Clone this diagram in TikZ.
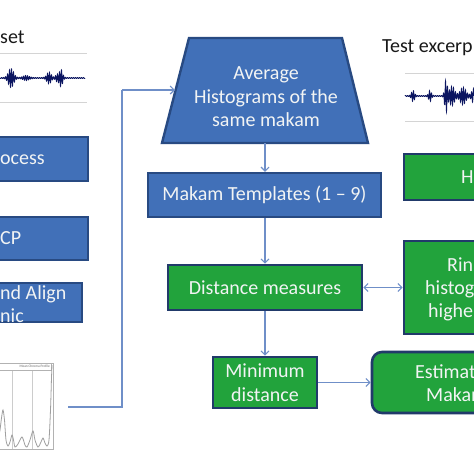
\documentclass[tikz,border=0pt]{standalone}
\usepackage{fontspec}
\setmainfont{Carlito}
\usetikzlibrary{arrows.meta}
\definecolor{bfill}{HTML}{4170B8}
\definecolor{bdraw}{HTML}{284A82}
\definecolor{gfill}{HTML}{22A33C}
\definecolor{gdraw}{HTML}{213A6A}
\definecolor{arrc}{HTML}{6F8FC8}
\definecolor{wavec}{HTML}{0B1560}
\definecolor{txt}{HTML}{F2F4F4}
\definecolor{sep}{HTML}{D4D4D4}
\begin{document}
\begin{tikzpicture}[x=1pt,y=-1pt,
  bluebox/.style={draw=bdraw, fill=bfill, line width=2.4pt, inner sep=0pt},
  greenbox/.style={draw=gdraw, fill=gfill, line width=2.6pt, inner sep=0pt},
  lbl/.style={text=txt, font=\fontsize{20}{23.5}\selectfont, align=center, inner sep=0pt},
  frag/.style={text=txt, font=\fontsize{20}{23.5}\selectfont, align=left, inner sep=0pt, anchor=west},
  head/.style={text=black!90, font=\fontsize{20}{24}\selectfont, inner sep=0pt, anchor=west},
  arr/.style={draw=arrc, line width=1.1pt, -{Straight Barb[length=4pt,width=8pt]}},
  dblarr/.style={draw=arrc, line width=1.1pt, {Straight Barb[length=4pt,width=8pt]}-{Straight Barb[length=4pt,width=8pt]}},
  wave/.style={draw=wavec, line width=0.9pt},
  sepline/.style={draw=sep, line width=0.8pt}]
\useasboundingbox (0,0) rectangle (474,474);
\clip (0,0) rectangle (474,474);
\fill[white] (0,0) rectangle (474,474);

% ---- left: training set ----
\node[head] (trset) at (0,37) {set};
\draw[sepline] (0,53) -- (87,53);
\draw[sepline] (0,102) -- (87,102);
\draw[wave] plot[domain=0:85, samples=700]
  (\x, {78 + (0.5 + 9*exp(-((\x-11)/3.5)^2) + 2*exp(-((\x-26)/4)^2)
        + 5*exp(-((\x-49)/3)^2) + 8*exp(-((\x-61)/2.2)^2) + 3*exp(-((\x-57)/2)^2))*sin(\x*180)});

\node[bluebox, minimum width=108pt, minimum height=44pt] (pre) at (34,159) {};
\node[frag] (pretxt) at (0,160) {ocess};
\node[bluebox, minimum width=108pt, minimum height=43pt] (hpcpl) at (34,238.5) {};
\node[frag] (hpcptxt) at (0,238) {CP};
\node[bluebox, minimum width=102pt, minimum height=39pt] (tonic) at (31,302.5) {};
\node[frag] (tonictxt) at (0,304) {nd Align\\nic};

% chart
\draw[draw=gray!60, line width=0.5pt] (-5,363) rectangle (53,449);
\draw[draw=gray!40, line width=0.4pt] (12,370) -- (12,449) (32,370) -- (32,449);
\draw[draw=gray!60, line width=0.4pt, fill=white] (-5,363) rectangle (51,370);
\node[text=gray!80!black, font=\fontsize{3.5}{4}\selectfont, anchor=east, inner sep=0pt] (legend) at (50,366.5) {Mean Chroma Profile};
\draw[draw=gray!75, line width=0.8pt] plot[smooth] coordinates {
 (-2,440) (0,430) (1.5,418) (3,410) (4.5,420) (6,440) (8,446) (10,442) (12,435)
 (13.5,440) (15,447) (18,444) (22,437) (25,445) (27,447) (30,440) (33,431)
 (35,440) (38,447) (41,442) (43,438) (45,443) (47,446) (49,440) (50.5,410)
 (51.5,378) (52,365)};
\coordinate (chartR) at (68,407);

% ---- middle ----
\coordinate (tA) at (189,38);
\coordinate (tB) at (342,38);
\coordinate (tC) at (368,143);
\coordinate (tD) at (162,143);
\draw[draw=bdraw, fill=bfill, line width=2.4pt, line join=miter] (tA) -- (tB) -- (tC) -- (tD) -- cycle;
\node[lbl] (avg) at (266,97) {Average\\Histograms of the\\same makam};
\coordinate (avgW) at (175,90);
\coordinate (avgS) at (265,143);

\draw[draw=arrc, line width=1.1pt] (chartR) -- (122,407) -- (122,90);
\draw[arr] (122,90) -- (avgW);

\node[bluebox, lbl, minimum width=233pt, minimum height=44pt] (tmpl) at (264.5,195) {Makam Templates (1 -- 9)};
\node[greenbox, lbl, minimum width=194pt, minimum height=45pt] (dist) at (265,287.5) {Distance measures};
\node[greenbox, lbl, minimum width=104pt, minimum height=51pt] (mind) at (265,382.5) {Minimum\\distance};

\draw[arr] (avgS) -- (avgS |- tmpl.north);
\draw[arr] (tmpl.south -| avgS) -- (dist.north -| avgS);
\draw[arr] (dist.south -| avgS) -- (mind.north -| avgS);

% ---- right: test excerpt ----
\node[head] (testx) at (382,48) {Test excerp};
\draw[sepline] (405,73) -- (474,73);
\draw[sepline] (405,121) -- (474,121);
\draw[wave] plot[domain=405:474, samples=600]
  (\x, {96 + (0.5 + 5*exp(-((\x-413)/2)^2) + 5*exp(-((\x-430)/1.8)^2) + 15*exp(-((\x-446)/1.8)^2)
        + 9*exp(-((\x-452)/3.5)^2) + 8*exp(-((\x-463)/4)^2) + 7*exp(-((\x-474)/3)^2))*sin((\x-400)*180)});

\node[greenbox, minimum width=136pt, minimum height=46pt] (hgr) at (472,177) {};
\node[frag] (hgrtxt) at (461,177) {H};
\node[greenbox, minimum width=136pt, minimum height=93pt] (ring) at (472,287.5) {};
\node[frag] (ring1) at (447,265) {Rin};
\node[frag] (ring2) at (425,289) {histog};
\node[frag] (ring3) at (428,312) {highe};
\node[greenbox, rounded corners=10pt, minimum width=168pt, minimum height=61pt] (est) at (456,382.5) {};
\node[frag] (est1) at (415,372) {Estimat};
\node[frag] (est2) at (426,395) {Makam};

\draw[dblarr] (dist.east) -- (ring.west |- dist.east);
\draw[arr] (mind.east) -- (est.west |- mind.east);
\end{tikzpicture}
\end{document}
